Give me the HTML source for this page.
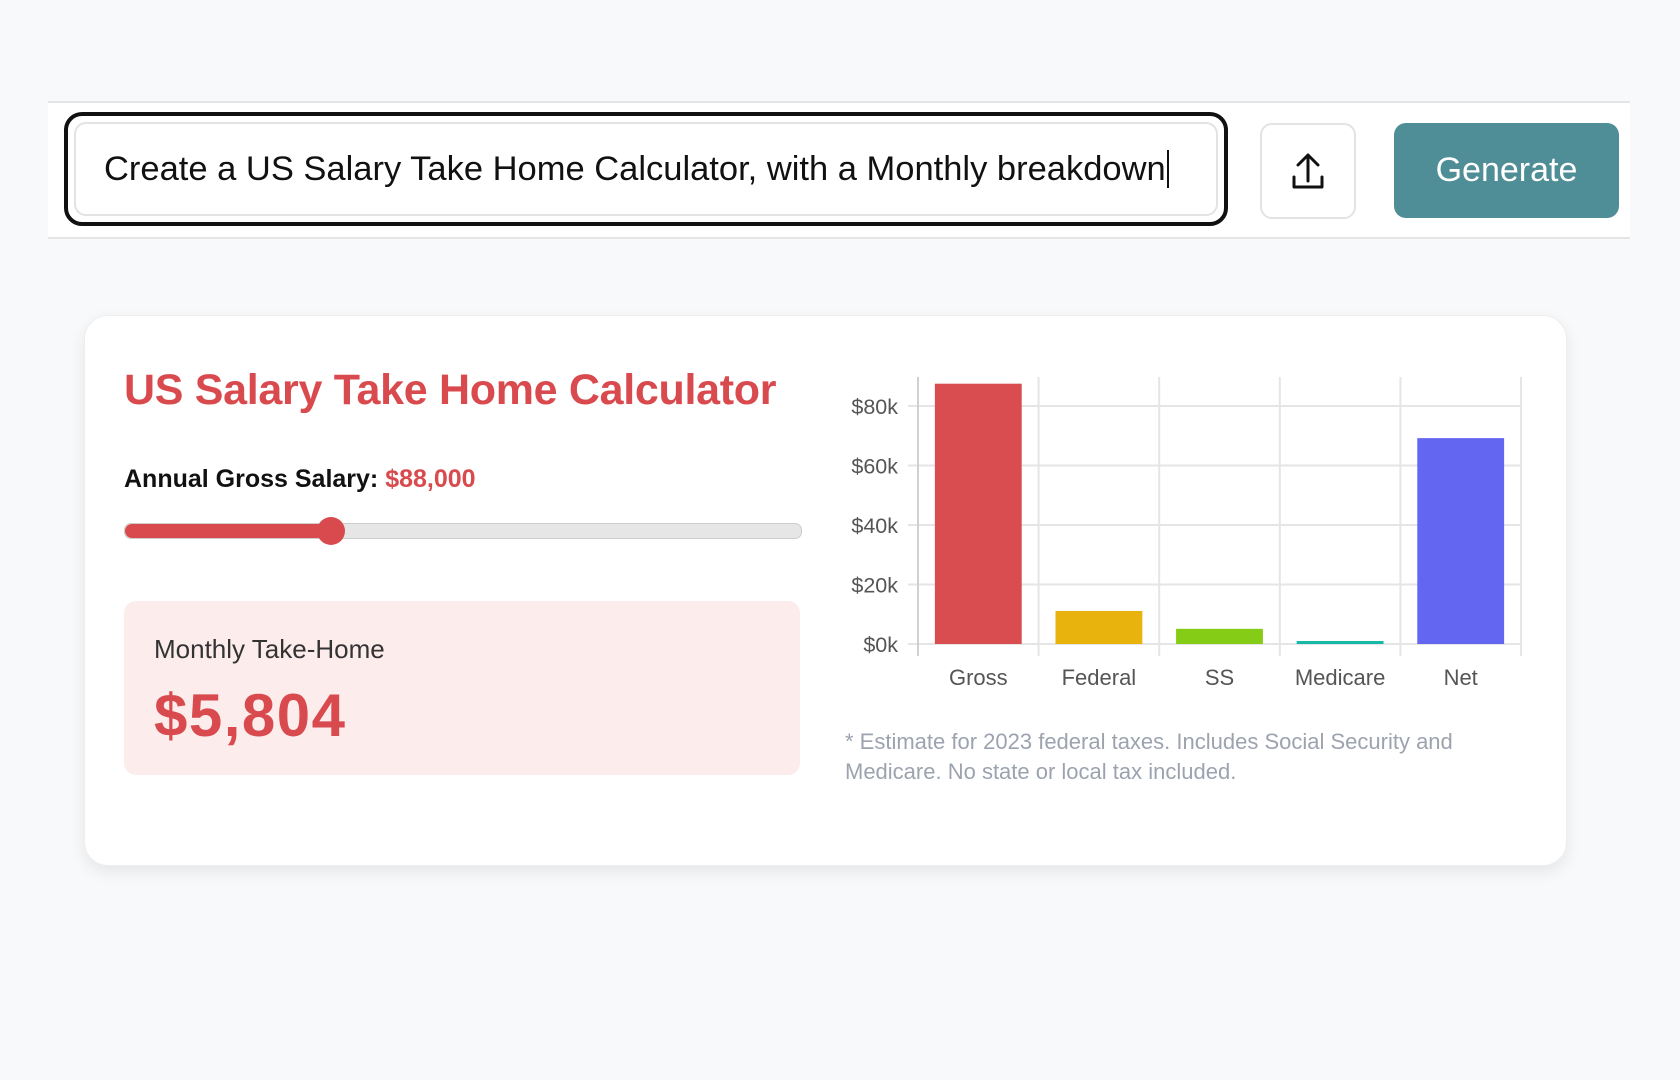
<!DOCTYPE html>
<html><head><meta charset="utf-8"><style>
body{margin:0;width:1680px;height:1080px;background:#f8f9fb;font-family:"Liberation Sans",sans-serif;position:relative;overflow:hidden}
.abs{position:absolute}
</style></head><body>
<div class="abs" style="left:48px;top:101px;width:1582px;height:134px;background:#fff;border-top:2px solid #e5e5e5;border-bottom:2px solid #e5e5e5"></div>
<div class="abs" style="left:64px;top:112px;width:1156px;height:106px;border:4px solid #111;border-radius:18px;background:#fff;box-sizing:content-box">
 <div class="abs" style="left:6px;top:6px;right:6px;bottom:6px;border:2px solid #e3e3e3;border-radius:12px"></div>
 <div class="abs" style="left:36px;top:34px;font-size:34.5px;color:#111;white-space:nowrap">Create a US Salary Take Home Calculator, with a Monthly breakdown<span style="border-left:2px solid #111;margin-left:1px"></span></div>
</div>
<div class="abs" style="left:1260px;top:123px;width:92px;height:92px;border:2px solid #e3e3e3;border-radius:12px;background:#fff">
 <svg width="92" height="92"><path d="M46 30v26M36 40l10-10 10 10M32 52v10h28V52" fill="none" stroke="#111" stroke-width="3" stroke-linecap="round" stroke-linejoin="round"/></svg>
</div>
<div class="abs" style="left:1394px;top:123px;width:225px;height:95px;background:#4f8e96;border-radius:12px;color:#fff;font-size:34px;line-height:95px;text-align:center">Generate</div>

<div class="abs" style="left:84px;top:315px;width:1481px;height:549px;background:#fff;border-radius:24px;border:1px solid #eee;box-shadow:0 6px 16px rgba(0,0,0,.08)"></div>
<div class="abs" style="left:124px;top:366px;font-size:43px;font-weight:bold;color:#d94a4e;letter-spacing:-0.3px">US Salary Take Home Calculator</div>
<div class="abs" style="left:124px;top:465px;font-size:25px;font-weight:bold;color:#111">Annual Gross Salary: <span style="color:#d94a4e">$88,000</span></div>
<div class="abs" style="left:124px;top:523px;width:676px;height:14px;border-radius:7px;background:#e6e6e6;border:1px solid #ccc">
 <div class="abs" style="left:0;top:0;width:206px;height:14px;border-radius:7px;background:#d94a4e"></div>
 <div class="abs" style="left:192px;top:-7px;width:28px;height:28px;border-radius:50%;background:#d94a4e"></div>
</div>
<div class="abs" style="left:124px;top:601px;width:676px;height:174px;background:#fcecec;border-radius:12px">
 <div class="abs" style="left:30px;top:33px;font-size:26px;color:#333">Monthly Take-Home</div>
 <div class="abs" style="left:30px;top:80px;font-size:60px;font-weight:bold;color:#d94a4e;letter-spacing:1.5px">$5,804</div>
</div>
<svg class="abs" id="chart" style="left:0;top:0" width="1680" height="1080"></svg>
<div class="abs" style="left:845px;top:727px;width:680px;font-size:22px;line-height:30px;color:#9ca3af">* Estimate for 2023 federal taxes. Includes Social Security and Medicare. No state or local tax included.</div>
<script>
const categories=["Gross","Federal","SS","Medicare","Net"];
const values=[87500,11100,5100,1000,69200];
const colors=["#d94c50","#e8b30c","#84cc16","#14b8a6","#6366f1"];
const ticks=[0,20000,40000,60000,80000];
const tickLabels=["$0k","$20k","$40k","$60k","$80k"];
const NS="http://www.w3.org/2000/svg";
const svg=document.getElementById('chart');
const x0=918,x1=1521,yTop=377,y0=644,kpx=238/80000;
const bw=(x1-x0)/categories.length;
const y=v=>y0-v*kpx;
function mk(t,a){const e=document.createElementNS(NS,t);for(const k in a)e.setAttribute(k,a[k]);svg.appendChild(e);return e;}
ticks.forEach((t,i)=>{
 const l=mk('line',{x1:x0-10,x2:x1,y1:y(t),y2:y(t),stroke:'#e5e5e5','stroke-width':2});
 
 
 const tx=mk('text',{x:898,y:y(t)+8,'text-anchor':'end','font-size':21.5,fill:'#555','font-family':'Liberation Sans, sans-serif'});
 tx.textContent=tickLabels[i];
 
 
});
for(let i=0;i<=categories.length;i++){
 const l=mk('line',{x1:x0+i*bw,x2:x0+i*bw,y1:yTop,y2:y0+12,stroke:i==0?'#d0d0d0':'#e5e5e5','stroke-width':2});
 
 
}
categories.forEach((c,i)=>{
 const bx=x0+i*bw+bw*0.14;
 const r=mk('rect',{x:bx,y:y(values[i]),width:bw*0.72,height:y0-y(values[i]),fill:colors[i]});
 
 
 const tx=mk('text',{x:x0+i*bw+bw/2,y:685,'text-anchor':'middle','font-size':22,fill:'#555','font-family':'Liberation Sans, sans-serif'});
 tx.textContent=c;
 
 
});
</script>
</body></html>
